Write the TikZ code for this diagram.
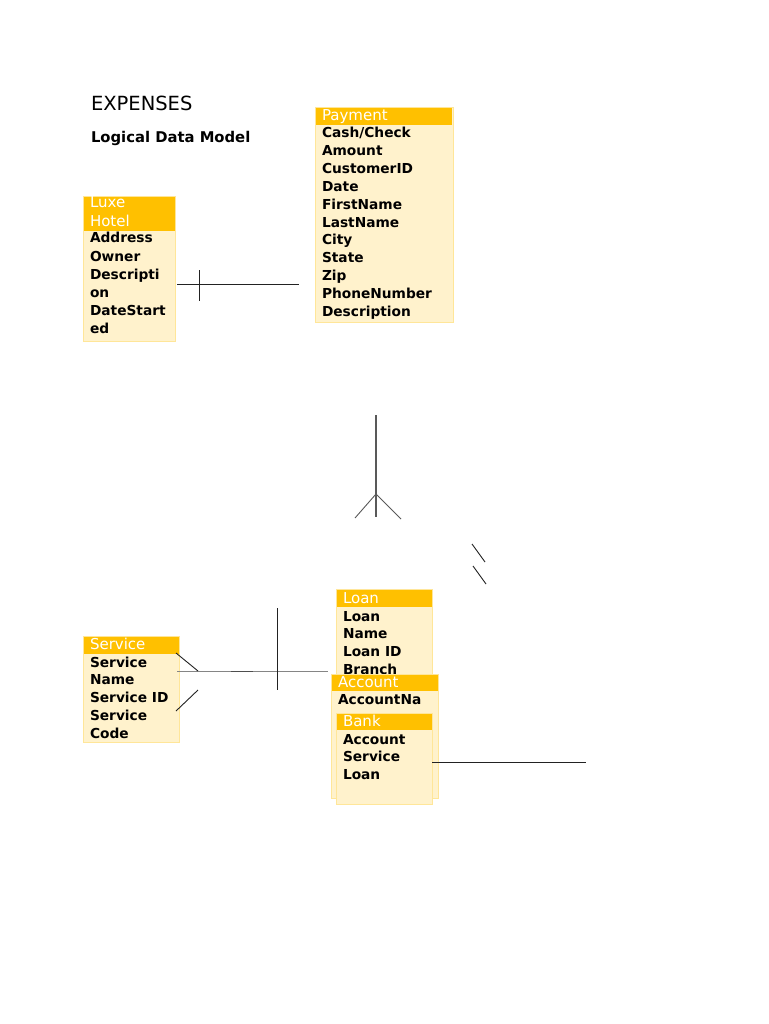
\documentclass[tikz,border=0pt]{standalone}
\usepackage{fontspec}
\setmainfont{DejaVu Sans}
\definecolor{Head}{HTML}{FFC000}
\definecolor{Cream}{HTML}{FFF2CC}
\definecolor{Edge}{HTML}{FFE699}
\definecolor{Wire}{HTML}{222222}

\begin{document}
\begin{tikzpicture}[x=1pt,y=-1pt,every node/.style={inner sep=0pt,outer sep=0pt},
  body/.style={draw=Edge,fill=Cream,line width=0.8pt,anchor=north west},
  head/.style={fill=Head,anchor=north west},
  title/.style={anchor=base west,text=white,font=\fontsize{15}{18}\selectfont},
  field/.style={anchor=base west,text=black,font=\bfseries\fontsize{13.75}{17}\selectfont},
  wire/.style={Wire,line width=0.9pt}]
\useasboundingbox[fill=white] (0,0) rectangle (768,1024);
\node[anchor=base west,font=\fontsize{19.5}{22}\selectfont] (doc) at (91,111){EXPENSES};
\node[anchor=base west,font=\bfseries\fontsize{14.8}{17}\selectfont] (sub) at (91,143){Logical Data Model};
% payment
\node[body,minimum width=138,minimum height=215] (pay) at (315,107){};
\node[head,minimum width=136,minimum height=17] (payh) at (316,108){};
\node[title] (payt) at (322,121){Payment};
\foreach \f [count=\i from 0] in {Cash/Check,Amount,CustomerID,Date,FirstName,LastName,City,State,Zip,PhoneNumber,Description}
  \node[field] (pay-\i) at (322,138+17.8*\i){\f};
% hotel
\node[body,minimum width=92,minimum height=145] (hotel) at (83,196){};
\node[head,minimum width=91,minimum height=34] (hotelh) at (84,197){};
\node[title] (hotelt1) at (90,208){Luxe};
\node[title] (hotelt2) at (90,226){Hotel};
\foreach \f [count=\i from 0] in {Address,Owner,Descripti,on,DateStart,ed}
  \node[field] (hotel-\i) at (90,243+18*\i){\f};
% service
\node[body,minimum width=96,minimum height=106] (svc) at (83,636){};
\node[head,minimum width=95,minimum height=17] (svch) at (84,637){};
\node[title] (svct) at (90,649){Service};
\foreach \f [count=\i from 0] in {Service,Name,Service ID,Service,Code}
  \node[field] (svc-\i) at (90,667+17.8*\i){\f};
% loan
\node[body,minimum width=96,minimum height=100] (loan) at (336,589){};
\node[head,minimum width=95,minimum height=17] (loanh) at (337,590){};
\node[title] (loant) at (343,603){Loan};
\foreach \f [count=\i from 0] in {Loan,Name,Loan ID,Branch}
  \node[field] (loan-\i) at (343,621+17.8*\i){\f};
% account
\node[body,minimum width=107,minimum height=124] (acct) at (331,674){};
\node[head,minimum width=106,minimum height=16] (accth) at (332,675){};
\node[title] (acctt) at (338,687){Account};
\node[field] (acct-0) at (338,704){AccountNa};
% bank
\node[body,minimum width=96,minimum height=91] (bank) at (336,713){};
\node[head,minimum width=95,minimum height=16] (bankh) at (337,714){};
\node[title] (bankt) at (343,726){Bank};
\foreach \f [count=\i from 0] in {Account,Service,Loan}
  \node[field] (bank-\i) at (343,744+17.5*\i){\f};
% connectors
\coordinate (payend) at (299,284);
\coordinate (hoteltick) at (199,284);
\draw[wire] ([xshift=2]hotel.east |- payend)--(payend);
\draw[wire] ([yshift=14]hoteltick)--([yshift=-17]hoteltick);
\coordinate (foottop) at (376,415);
\coordinate (footjoin) at (376,494);
\draw[Wire!75,line width=1.1pt] (foottop)--(376,517);
\draw[Wire!75,line width=0.9pt] (355,518)--(footjoin)--(401,519);
\draw[wire] (472,544)--(485,562);
\draw[wire] (473,566)--(486,584);
\coordinate (svcend) at (328,671);
\coordinate (svcfoot) at (198,671);
\coordinate (svctick) at (277,671);
\draw[Wire!55,line width=0.9pt] ([xshift=-2]svc.east |- svcend)--(svcend);
\draw[Wire!80,line width=0.9pt] (231,671)--(253,671);
\draw[wire] ([xshift=-3]svc.east |- 0,653)--(svcfoot);
\draw[wire] (198,690)--([xshift=-3]svc.east |- 0,711);
\draw[wire] ([yshift=63]svctick)--([yshift=-19]svctick);
\coordinate (bankend) at (586,762);
\draw[wire] (bank.east |- bankend)--(bankend);
\end{tikzpicture}
\end{document}
